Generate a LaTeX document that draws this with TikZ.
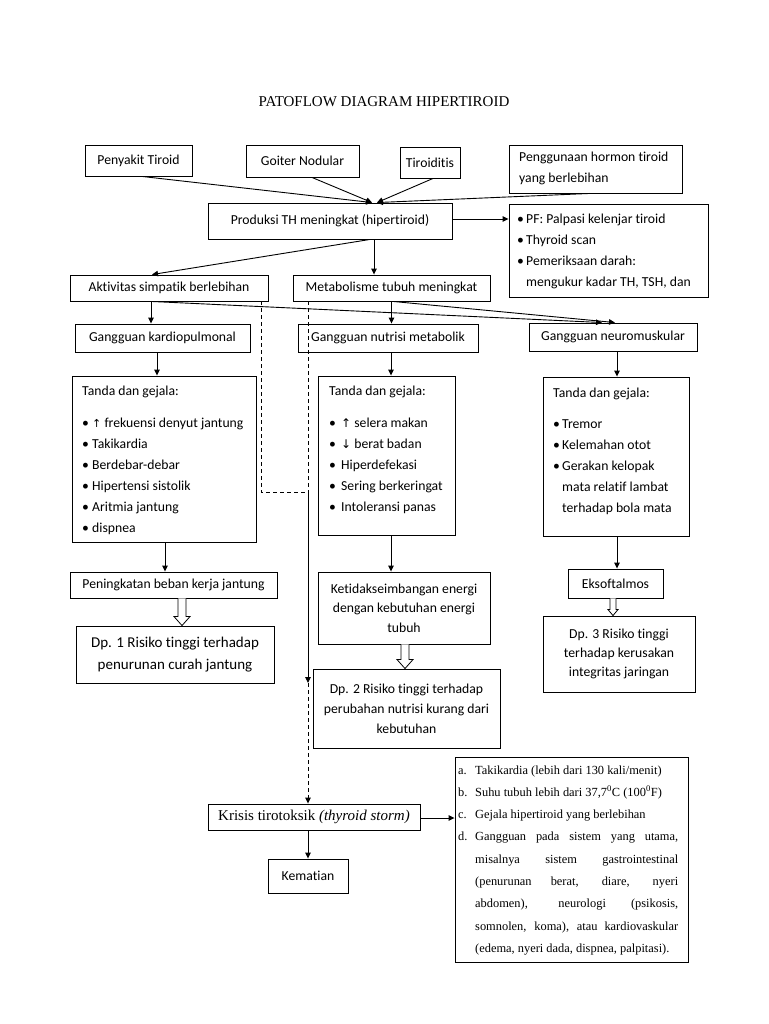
\documentclass[tikz,border=0pt]{standalone}
\usepackage{fontspec}
\setmainfont{Liberation Serif}
\newfontfamily\calfont[Ligatures=NoCommon]{Carlito}
\newfontfamily\dejavu{DejaVu Sans}
\usetikzlibrary{arrows.meta,calc}
\newcommand\bul[1][10pt]{\makebox[#1][l]{\textbullet}}
\newcommand\hollowarr[5]{%
  \draw[line width=0.8pt, fill=white] ($(#1)+(-#3,0)$) -- ($(#2)+(-#3,-#5)$) -- ($(#2)+(-#4,-#5)$) -- (#2) -- ($(#2)+(#4,-#5)$) -- ($(#2)+(#3,-#5)$) -- ($(#1)+(#3,0)$);}
\tikzset{
  box/.style={draw, line width=0.9pt, inner sep=0pt, align=center, font=\calfont\fontsize{13.7}{17}\selectfont},
  wh/.style n args={2}{minimum width=#1pt, minimum height=#2pt},
  arr/.style={line width=0.9pt, -{Triangle[length=6pt,width=5.5pt]}},
  dashline/.style={line width=0.9pt, dash pattern=on 4pt off 3pt},
  txt/.style={anchor=base west, inner sep=0pt, font=\calfont\fontsize{13.7}{21}\selectfont},
}
\begin{document}
\begin{tikzpicture}[x=1pt,y=-1pt]
\useasboundingbox (0,0) rectangle (768,1024);
\fill[white] (0,0) rectangle (768,1024);

\node[anchor=base, inner sep=0pt, font=\fontsize{15}{18}\selectfont] (title) at (384,107) {PATOFLOW DIAGRAM HIPERTIROID};

% top row
\node[box, wh={107}{31}] (pen) at (138.5,160.5) {Penyakit Tiroid};
\node[box, wh={113}{32}] (goi) at (302.5,161) {Goiter Nodular};
\node[box, wh={60}{31}] (tir) at (430,162.5) {Tiroiditis};
\node[box, wh={173}{48}] (peng) at (595.5,169) {};
\node[txt] (pengt) at (519,162) {\parbox[t]{160pt}{\raggedright Penggunaan hormon tiroid\par yang berlebihan}};

\node[box, wh={244}{36}] (prod) at (330,221) {Produksi TH meningkat (hipertiroid)};
\node[box, wh={199}{93}] (pf) at (608.5,250.5) {};
\node[txt] (pft) at (517,223) {\parbox[t]{185pt}{\raggedright
\bul[9pt]PF: Palpasi kelenjar tiroid\par
\bul[9pt]Thyroid scan\par
\bul[9pt]Pemeriksaan darah:\par
\hspace*{9pt}mengukur kadar TH, TSH, dan}};

\node[box, wh={198}{26}] (akt) at (169,288) {Aktivitas simpatik berlebihan};
\node[box, wh={197}{26}] (met) at (391.5,288) {Metabolisme tubuh meningkat};

\node[box, wh={175}{28}] (kar) at (162.5,338) {Gangguan kardiopulmonal};
\node[box, wh={180}{28}] (nut) at (388,338) {Gangguan nutrisi metabolik};
\node[box, wh={168}{28}] (neu) at (613,337) {Gangguan neuromuskular};

% symptom boxes
\node[box, wh={184}{166}] (tl) at (164,459) {};
\node[txt] (tlt) at (82,395) {\parbox[t]{172pt}{\raggedright
Tanda dan gejala:\par\vspace{11pt}
\bul{\dejavu\fontsize{11}{21}\selectfont ↑} frekuensi denyut jantung\par
\bul Takikardia\par
\bul Berdebar-debar\par
\bul Hipertensi sistolik\par
\bul Aritmia jantung\par
\bul dispnea}};

\node[box, wh={137}{159}] (tm) at (386.5,455.5) {};
\node[txt] (tmt) at (329,395) {\parbox[t]{125pt}{\raggedright
Tanda dan gejala:\par\vspace{11pt}
\bul[12pt]{\dejavu\fontsize{12}{21}\selectfont ↑} selera makan\par
\bul[12pt]{\dejavu\fontsize{12}{21}\selectfont ↓} berat badan\par
\bul[12pt]Hiperdefekasi\par
\bul[12pt]Sering berkeringat\par
\bul[12pt]Intoleransi panas}};

\node[box, wh={146}{159}] (tr) at (616,456.5) {};
\node[txt] (trt) at (553,397) {\parbox[t]{135pt}{\raggedright
Tanda dan gejala:\par\vspace{10pt}
\bul[9pt]Tremor\par
\bul[9pt]Kelemahan otot\par
\bul[9pt]Gerakan kelopak\par
\hspace*{9pt}mata relatif lambat\par
\hspace*{9pt}terhadap bola mata}};

% lower boxes
\node[box, wh={207}{26}] (beb) at (173.5,585) {Peningkatan beban kerja jantung};
\node[box, wh={198}{57}, font=\calfont\fontsize{15}{22}\selectfont] (dp1) at (175,654.5) {Dp. 1 Risiko tinggi terhadap\\penurunan curah jantung};
\node[box, wh={172}{72}, font=\calfont\fontsize{13.7}{19.5}\selectfont] (ket) at (404,608) {Ketidakseimbangan energi\\dengan kebutuhan energi\\tubuh};
\node[box, wh={187}{79}, font=\calfont\fontsize{13.7}{20}\selectfont] (dp2) at (406.5,708.5) {Dp. 2 Risiko tinggi terhadap\\perubahan nutrisi kurang dari\\kebutuhan};
\node[box, wh={95}{29}] (eks) at (615.5,583.5) {Eksoftalmos};
\node[box, wh={152}{76}, font=\calfont\fontsize{13.7}{19}\selectfont] (dp3) at (619,654) {Dp. 3 Risiko tinggi\\terhadap kerusakan\\integritas jaringan};

\node[box, wh={212}{26}, font=\fontsize{15}{18}\selectfont] (kri) at (314,817) {Krisis tirotoksik \textit{(thyroid storm)}};
\node[box, wh={80}{34}] (kem) at (308,876) {Kematian};

\node[box, wh={233}{205}] (rb) at (571.5,859.5) {};
\node[anchor=base west, inner sep=0pt, font=\fontsize{12.4}{22.3}\selectfont] (rbt) at (458,774) {\parbox[t]{225pt}{\raggedright
\makebox[17pt][l]{a.}Takikardia (lebih dari 130 kali/menit)\par
\makebox[17pt][l]{b.}Suhu tubuh lebih dari 37,7\textsuperscript{0}C (100\textsuperscript{0}F)\par
\makebox[17pt][l]{c.}Gejala hipertiroid yang berlebihan\par
\makebox[17pt][l]{d.}\makebox[203pt][s]{Gangguan pada sistem yang utama,}\par
\hspace*{17pt}\makebox[203pt][s]{misalnya sistem gastrointestinal}\par
\hspace*{17pt}\makebox[203pt][s]{(penurunan berat, diare, nyeri}\par
\hspace*{17pt}\makebox[203pt][s]{abdomen), neurologi (psikosis,}\par
\hspace*{17pt}\makebox[203pt][s]{somnolen, koma), atau kardiovaskular}\par
\hspace*{17pt}(edema, nyeri dada, dispnea, palpitasi).}};

% connectors top
\draw[arr] ($(pen.south)+(3.5,0)$) -- ($(prod.north)+(42,0)$);
\draw[arr] ($(goi.south)+(9.5,0)$) -- ($(prod.north)+(42,0)$);
\draw[arr] ($(tir.south)+(3,0)$) -- ($(prod.north)+(47,0)$);
\draw[arr] ($(peng.south)+(-5.5,0)$) -- ($(prod.north)+(47,0)$);
\draw[arr] ($(prod.east)+(0,-2)$) -- ($(pf.west|-prod.east)+(0,-2)$);
\draw[arr] ($(prod.south)+(40,0)$) -- ($(akt.north)+(-17,0)$);
\draw[arr] ($(prod.south)+(44,0)$) coordinate (p2) -- (p2|-met.north);

% second level
\draw[arr] ($(akt.south)+(-18,0)$) coordinate (a1) -- (a1|-kar.north);
\draw[arr] (a1) -- ($(neu.north)+(-11,0)$);
\draw[arr] ($(met.south)+(0,0)$) coordinate (m1) -- (m1|-nut.north);
\draw[arr] ($(met.south)+(1.5,0)$) -- ($(neu.north)+(2,0)$);

\draw[arr] ($(kar.south)+(-5.5,0)$) coordinate (k1) -- (k1|-tl.north);
\draw[arr] ($(nut.south)+(3,0)$) coordinate (n1) -- (n1|-tm.north);
\draw[arr] ($(neu.south)+(4,0)$) coordinate (u1) -- (u1|-tr.north);

\draw[arr] ($(tl.south)+(1,0)$) coordinate (t1) -- (t1|-beb.north);
\draw[arr] ($(tm.south)+(4.5,0)$) coordinate (t2) -- (t2|-ket.north);
\draw[arr] ($(tr.south)+(1,0)$) coordinate (t3) -- (t3|-eks.north);

% hollow arrows
\coordinate (h1a) at ($(beb.south)+(8.5,0)$);
\coordinate (h1b) at (h1a|-dp1.north);
\hollowarr{h1a}{h1b}{4}{8}{9}
\coordinate (h2a) at ($(ket.south)+(1,0)$);
\coordinate (h2b) at (h2a|-dp2.north);
\hollowarr{h2a}{h2b}{4}{8}{9}
\coordinate (h3a) at ($(eks.south)+(-2.5,0)$);
\coordinate (h3b) at (h3a|-dp3.north);
\hollowarr{h3a}{h3b}{3}{5}{6}

% dashed path to crisis
\coordinate (j0) at (261,492);
\coordinate (j1) at (308,492);
\coordinate (j2) at (308,683);
\draw[dashline] (j0|-akt.south) -- (j0) -- (j1);
\draw[dashline] (j1|-met.south) -- (j1);
\draw[arr] (j1) -- (j2);
\draw[arr, dash pattern=on 4pt off 3pt] (j2) -- (j2|-kri.north);

\draw[arr] ($(kri.south)+(-6,0)$) coordinate (c1) -- (c1|-kem.north);
\draw[arr] ($(kri.east)+(0,1)$) -- ($(rb.west|-kri.east)+(0,1)$);
\end{tikzpicture}
\end{document}
